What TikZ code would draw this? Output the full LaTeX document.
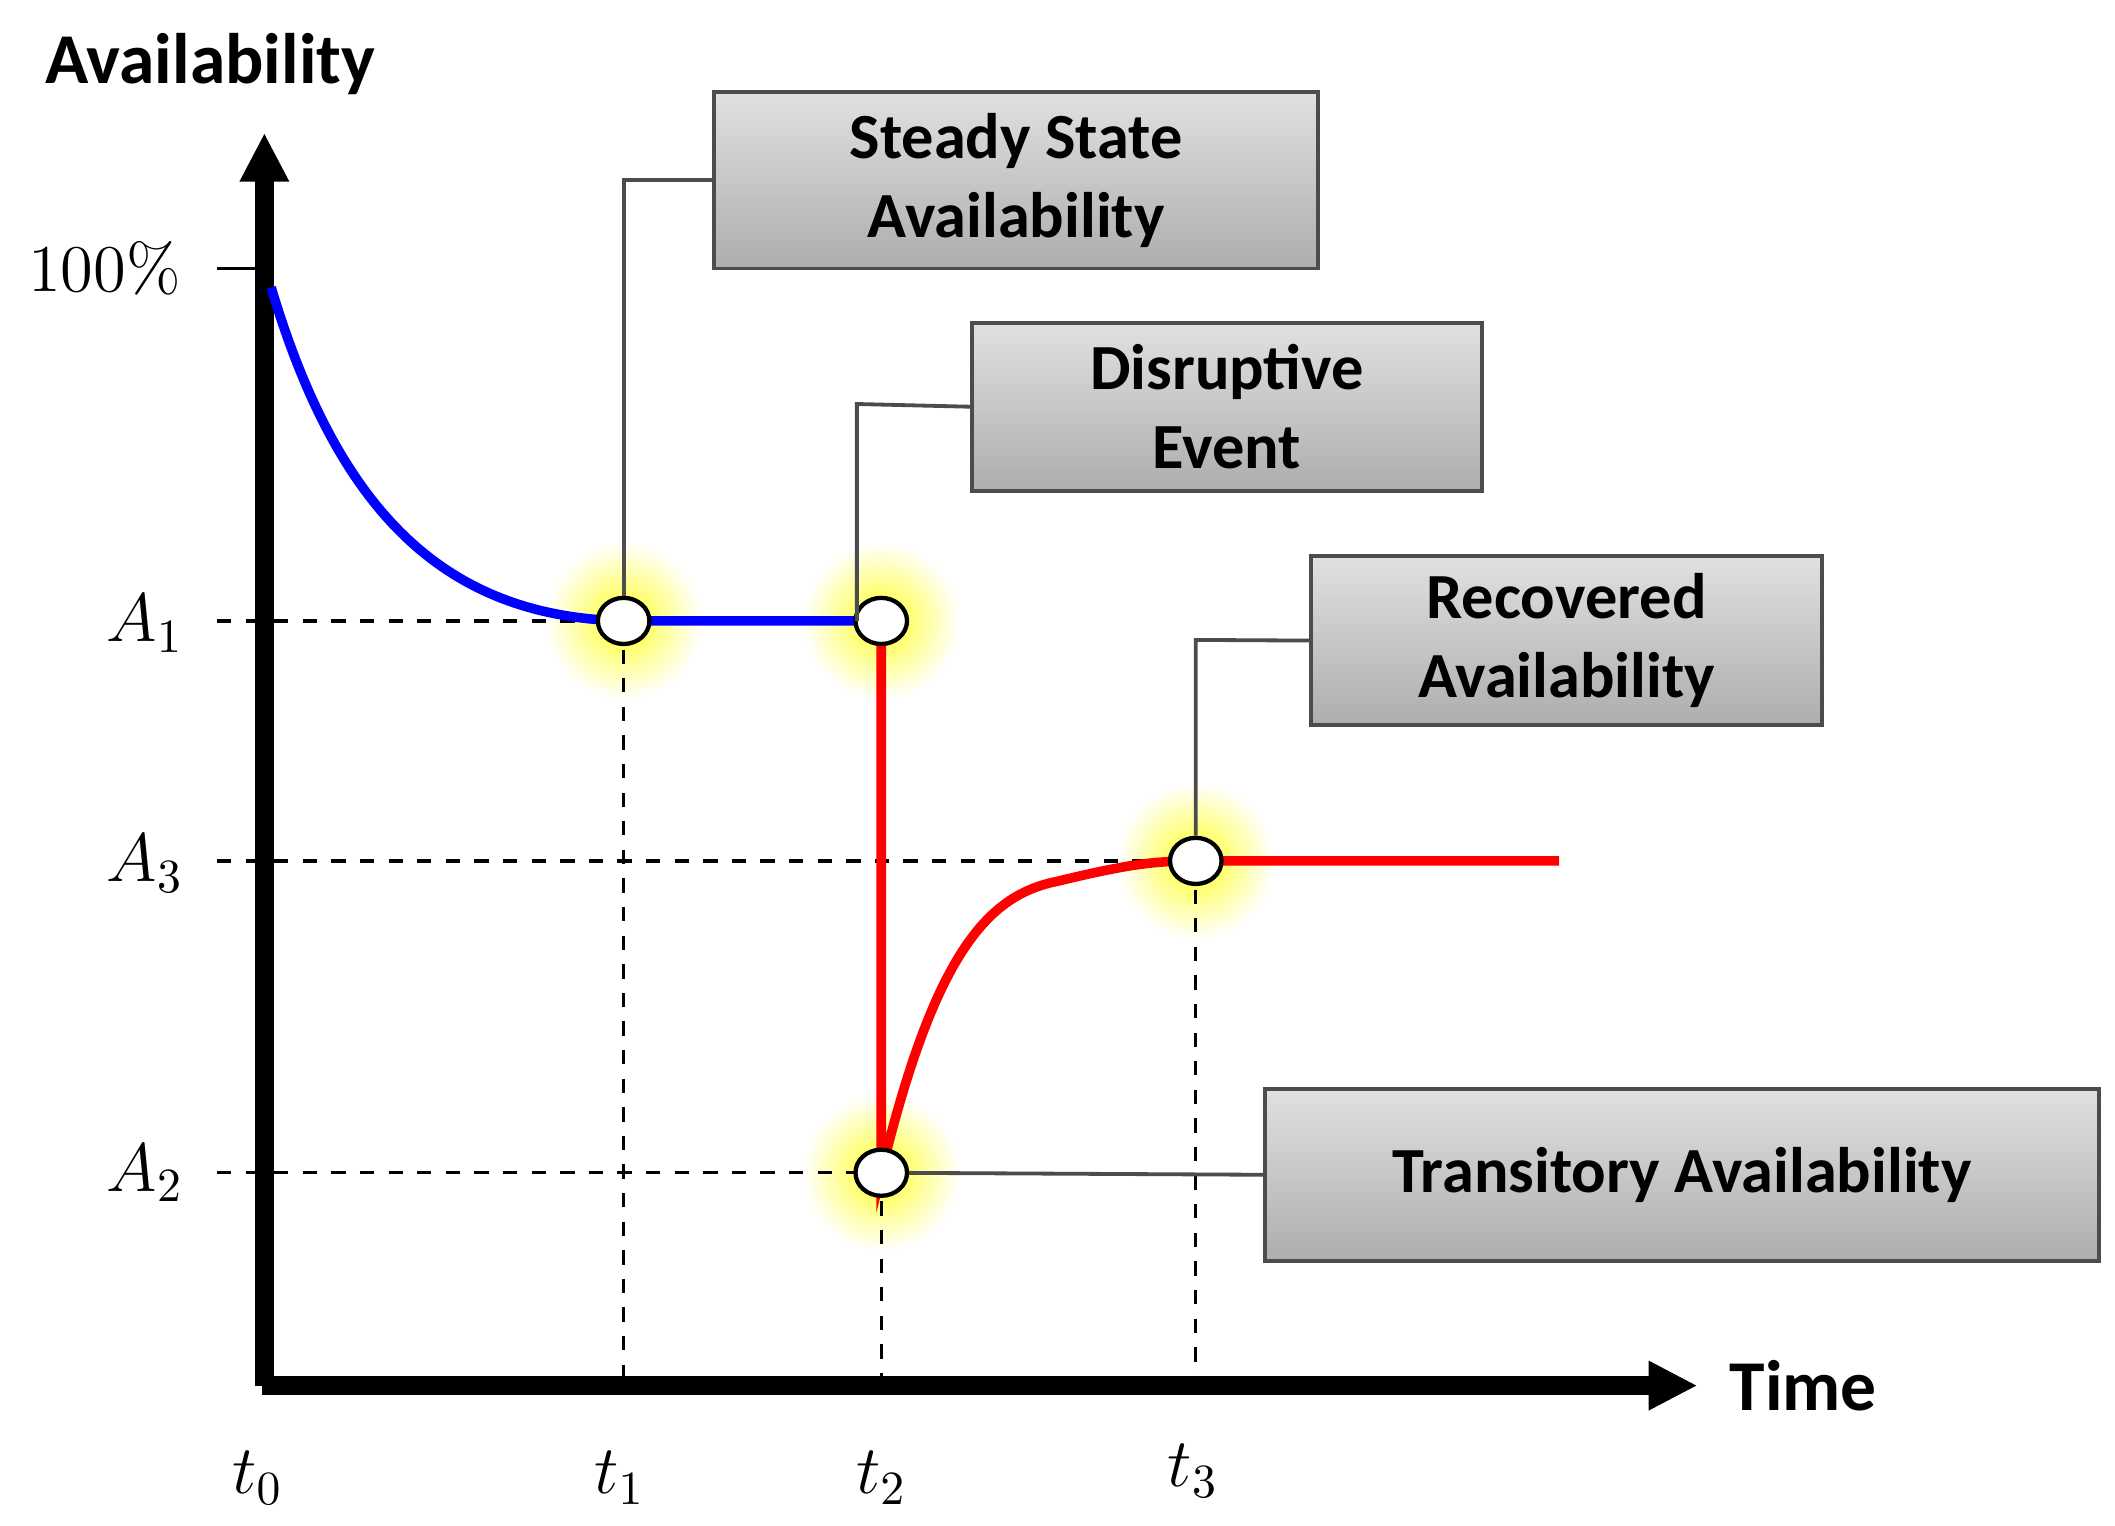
\documentclass[tikz,border=0pt]{standalone}
\usepackage{fontspec}
\setsansfont{Carlito}
\usetikzlibrary{arrows.meta}
\begin{document}
\begin{tikzpicture}[x=0.01cm,y=-0.01cm,
  lbl/.style={font=\sffamily\bfseries\fontsize{13.5}{16.5}\selectfont,align=center},
  callbox/.style={draw=black!70,line width=0.8pt,top color=black!12,bottom color=black!32,lbl},
  ptc/.style={ellipse,draw,fill=white,line width=0.9pt,minimum width=0.38cm,minimum height=0.34cm,inner sep=0pt},
  glow/.style={inner color=yellow!85,outer color=white},
  dsh/.style={dashed,line width=0.7pt},
  cl/.style={black!70,line width=0.8pt},
  ml/.style={font=\fontsize{14}{16}\selectfont}]
\useasboundingbox (0,0) rectangle (1560,1125);
\usetikzlibrary{shapes.geometric}
% glows
\foreach \p in {(460,458),(650,458),(650,865),(882,635)} \shade[glow] \p circle (58);
% dashed guides
\coordinate (o) at (195,1022);
\draw[dsh] (160,458) -- (460,458);
\draw[dsh] (160,635) -- (882,635);
\draw[dsh] (160,865) -- (650,865);
\draw[line width=0.8pt] (160,198) -- (195,198);
\draw[dsh] (460,458) -- (460,1022);
\draw[dsh] (650,865) -- (650,1022);
\draw[dsh] (882,635) -- (882,1022);
% axes
\draw[line width=4pt,-{Triangle[length=0.36cm,width=0.34cm]}] (195,1022) -- (195,98);
\draw[line width=4pt,-{Triangle[length=0.36cm,width=0.34cm]}] (193,1022) -- (1252,1022);
% curves
\draw[blue,line width=2pt] (200,212) .. controls (250,380) and (330,455) .. (460,458) -- (650,458);
\draw[red,line width=2pt] (650,458) -- (650,865) .. controls (690,700) and (730,660) .. (780,650) .. controls (830,638) and (850,635) .. (882,635) -- (1150,635);
% boxes
\node[callbox,minimum width=4.45cm,minimum height=1.3cm] (b1) at (749.5,133) {Steady State\\Availability};
\node[callbox,minimum width=3.76cm,minimum height=1.24cm] (b2) at (905,300) {Disruptive\\Event};
\node[callbox,minimum width=3.77cm,minimum height=1.25cm] (b3) at (1155.5,472.5) {Recovered\\Availability};
\node[callbox,minimum width=6.15cm,minimum height=1.27cm] (b4) at (1240.5,866.5) {Transitory Availability};
% points
\node[ptc] (p1) at (460,458) {};
\node[ptc] (p2) at (650,458) {};
\node[ptc] (p3) at (650,865) {};
\node[ptc] (p4) at (882,635) {};
% callout lines
\draw[cl] (p1) -- (460,133) -- (b1.west);
\draw[cl] (632,458) -- (632,298) -- (b2.west);
\draw[cl] (p4) -- (882,472) -- (b3.west);
\draw[cl] (p3) -- (b4.west);
% labels
\node[lbl,font=\sffamily\bfseries\fontsize{15}{18}\selectfont] (ya) at (155,47) {Availability};
\node[lbl,font=\sffamily\bfseries\fontsize{15}{18}\selectfont] (xa) at (1330,1022) {Time};
\node[ml] (l100) at (77,198) {100\%};
\node[ml] (la1) at (107,460) {$A_1$};
\node[ml] (la3) at (107,637) {$A_3$};
\node[ml] (la2) at (107,865) {$A_2$};
\node[ml] (t0) at (190,1090) {$t_0$};
\node[ml] (t1) at (457,1090) {$t_1$};
\node[ml] (t2) at (650,1090) {$t_2$};
\node[ml] (t3) at (880,1085) {$t_3$};
\end{tikzpicture}
\end{document}
